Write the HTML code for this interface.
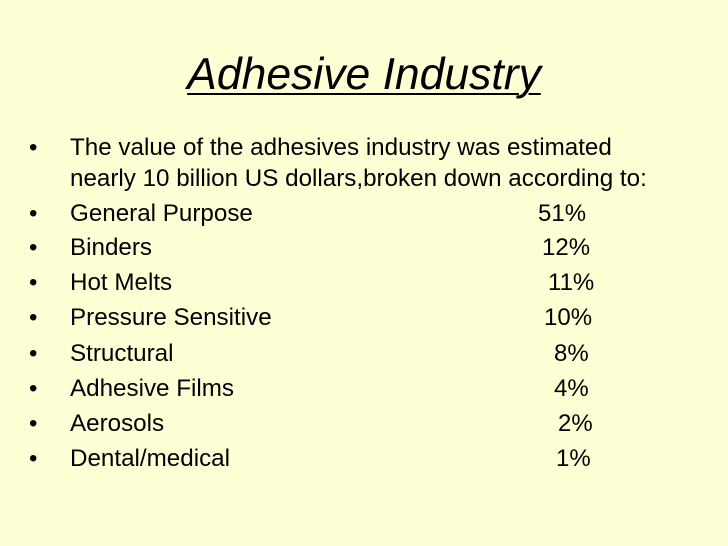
<!DOCTYPE html>
<html><head><meta charset="utf-8"><style>
html,body{margin:0;padding:0}
body{width:728px;height:546px;background:#FFFFD6;position:relative;overflow:hidden;font-family:"Liberation Sans",sans-serif;color:#000}
.t{position:absolute;left:0;width:728px;text-align:center;top:49px;font-size:44.5px;font-style:italic;text-decoration:underline;text-decoration-thickness:2px;text-underline-offset:4px;line-height:52px}
.l{position:absolute;left:70px;font-size:24.2px;line-height:28px;white-space:nowrap}
.b{position:absolute;left:29px;font-size:24px;line-height:28px}
.p{position:absolute;font-size:24px;line-height:28px}
</style></head><body>
<div class="t">Adhesive Industry</div>
<div class="b" style="top:134px">•</div>
<div class="l" style="top:134px">The value of the adhesives industry was estimated</div>
<div class="l" style="top:165px">nearly 10 billion US dollars,broken down according to:</div>
<div class="b" style="top:200px">•</div><div class="l" style="top:200px">General Purpose</div><div class="p" style="top:200px;left:538px">51%</div>
<div class="b" style="top:234px">•</div><div class="l" style="top:234px">Binders</div><div class="p" style="top:234px;left:542px">12%</div>
<div class="b" style="top:269px">•</div><div class="l" style="top:269px">Hot Melts</div><div class="p" style="top:269px;left:548px">11%</div>
<div class="b" style="top:304px">•</div><div class="l" style="top:304px">Pressure Sensitive</div><div class="p" style="top:304px;left:544px">10%</div>
<div class="b" style="top:340px">•</div><div class="l" style="top:340px">Structural</div><div class="p" style="top:340px;left:554px">8%</div>
<div class="b" style="top:375px">•</div><div class="l" style="top:375px">Adhesive Films</div><div class="p" style="top:375px;left:554px">4%</div>
<div class="b" style="top:410px">•</div><div class="l" style="top:410px">Aerosols</div><div class="p" style="top:410px;left:558px">2%</div>
<div class="b" style="top:445px">•</div><div class="l" style="top:445px">Dental/medical</div><div class="p" style="top:445px;left:556px">1%</div>
</body></html>
